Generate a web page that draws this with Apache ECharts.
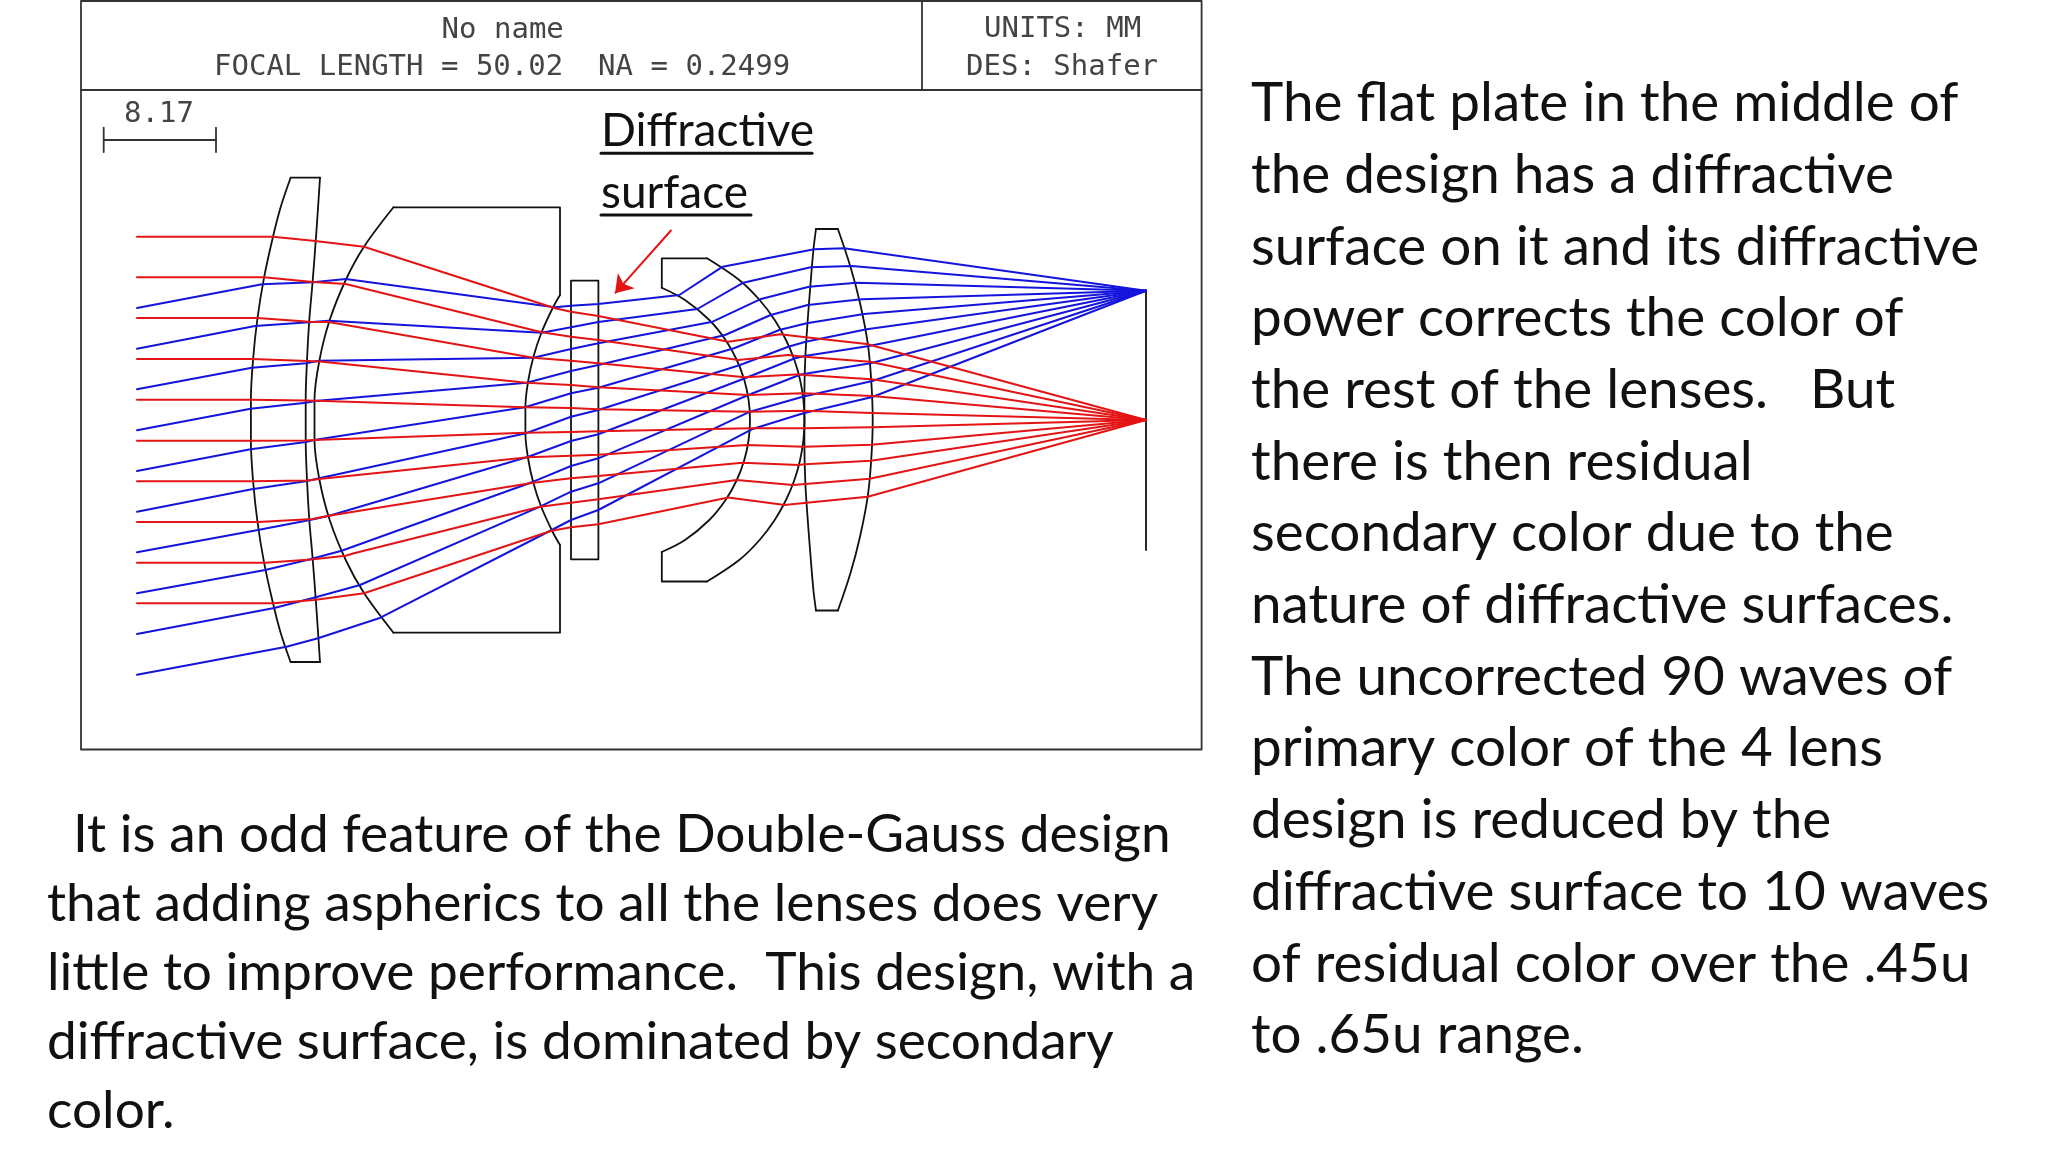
<!DOCTYPE html>
<html>

<head>
    <meta charset="utf-8">
    <title>Double-Gauss diffractive design</title>
    <style>
        html, body { margin: 0; background: #fff; }
        #main { width: 2048px; height: 1152px; }
    </style>
</head>

<body>
    <div id="main"></div>
    <script src="https://cdn.jsdelivr.net/npm/echarts@6/dist/echarts.min.js"></script>
    <script>
    // layout coordinates, x to the right and y downward
    var frameBox = [[81, 1], [1201.6, 1], [1201.6, 749.5], [81, 749.5], [81, 1]];
    var headerRule = [[81, 90], [1201.6, 90]];
    var headerDivider = [[922, 1], [922, 90]];
    var scaleBar = [[103.7, 140], [216, 140]];
    var scaleTickA = [[103.7, 127.7], [103.7, 152]];
    var scaleTickB = [[216, 127.7], [216, 152]];
    var imagePlane = [[1146, 290.7], [1146, 550]];
    var underlineA = [[601, 153.3], [812, 153.3]];
    var underlineB = [[601, 215], [751, 215]];
    var arrowFrom = [671.4, 230];
    var arrowTo = [615, 293.3];

    var lens1Front = [[290.6, 177.7], [280.7, 207], [273, 236.7], [264.1, 277.3], [257.5, 318], [253.1, 359], [250.9, 399.7], [250.9, 440.7], [253.1, 481.3], [257.5, 522], [264.1, 562.7], [273, 603.3], [280.7, 633], [290.6, 662]];
    var lens1Back = [[320, 177.7], [316.3, 233], [312.6, 282], [309.3, 320], [307, 360], [305.7, 400], [305.7, 440], [307, 480], [309.3, 520], [312.6, 558], [316.3, 607], [320, 662]];
    var lens1Top = [[290.6, 177.7], [320, 177.7]];
    var lens1Bottom = [[290.6, 662], [320, 662]];

    var lens2Front = [[393.5, 207.3], [364, 246.7], [346.2, 279], [329.7, 320], [319.5, 360], [314.5, 400], [314.5, 440], [319.5, 480], [329.7, 520], [346.2, 561], [364, 593], [393.5, 632.7]];
    var lens2Back = [[560, 295], [552.7, 308], [541.3, 333], [533.4, 357], [528, 382], [525.4, 407], [525.4, 433], [528, 458], [533.4, 483], [541.3, 507], [552.7, 532], [560, 545]];
    var lens2Edge = [[393.5, 207.3], [560, 207.3], [560, 295]];
    var lens2EdgeLow = [[560, 545], [560, 632.7], [393.5, 632.7]];

    var plateBox = [[571, 280.7], [598.4, 280.7], [598.4, 559.3], [571, 559.3], [571, 280.7]];

    var lens3Front = [[661.7, 287.7], [685, 300], [709.3, 320], [725.6, 340], [736.8, 360], [744.3, 380], [748.6, 400], [750, 420], [748.6, 440], [744.3, 460], [736.8, 480], [725.6, 500], [709.3, 520], [685, 540], [661.7, 552]];
    var lens3Back = [[707, 258.3], [739.2, 280], [759.6, 300], [774.7, 320], [786, 340], [794.4, 360], [800.1, 380], [803.4, 400], [804.5, 420], [803.4, 440], [800.1, 460], [794.4, 480], [786, 500], [774.7, 520], [759.6, 540], [739.2, 560], [707, 581.5]];
    var lens3Edge = [[707, 258.3], [661.8, 258.3], [661.8, 287.7]];
    var lens3EdgeLow = [[661.8, 552], [661.8, 581.5], [707, 581.5]];

    var lens4Front = [[816, 229], [813.4, 250], [810.3, 286.7], [807.6, 321.7], [805.3, 358], [804.4, 396.7], [804.4, 443], [805.3, 482], [807.6, 518], [810.3, 553], [813.4, 590], [816, 610.5]];
    var lens4Back = [[837.9, 229], [850.5, 267], [860, 303], [867.7, 343], [871.2, 380], [872.7, 420], [871.2, 460], [867.7, 496.7], [860, 536.7], [850.5, 573], [837.9, 610.5]];
    var lens4Top = [[816, 229], [837.9, 229]];
    var lens4Bottom = [[816, 610.5], [837.9, 610.5]];

    var redRay1 = [[137, 236.7], [273, 236.7], [313, 240.7], [364, 246.7], [555, 308.3], [571, 311.7], [598.3, 316], [728.3, 341.7], [780, 334.3], [805.7, 337.3], [866.7, 344], [1146, 420]];
    var redRay2 = [[137, 277.3], [264, 277.3], [313, 282], [345.7, 284], [541.7, 332.3], [571, 336.7], [598.3, 340], [738.3, 360], [788.3, 355], [804, 356.7], [870, 361.7], [1146, 420]];
    var redRay3 = [[137, 318], [257.6, 318], [309, 321.7], [328.6, 322], [533.3, 357.7], [571, 360.7], [598.3, 363.3], [745, 377.3], [800, 374.3], [804, 375], [871.7, 379.3], [1146, 420]];
    var redRay4 = [[137, 359], [252, 359], [307, 361], [320, 361.5], [526.7, 382.7], [571, 385], [598.3, 387.3], [748.3, 395], [802.7, 393.3], [872.3, 396], [1146, 420]];
    var redRay5 = [[137, 399.7], [250.6, 399.7], [305.7, 400.5], [315.5, 400.7], [525, 407.3], [571, 408], [598.3, 409.3], [750, 411.7], [803.3, 410.7], [872.3, 413], [1146, 420]];
    var redRay6 = [[137, 440.7], [250.6, 440.7], [305.7, 440.5], [313.9, 440], [525.7, 432.7], [571, 432], [598.3, 431.3], [750.7, 428.3], [803.3, 428.3], [872.3, 427.3], [1146, 420]];
    var redRay7 = [[137, 481.3], [251.8, 481.3], [307.3, 480.5], [319.2, 479], [528.3, 457.3], [571, 455.7], [598.3, 454.7], [747, 445], [804.6, 446.7], [871.5, 444.7], [1146, 420]];
    var redRay8 = [[137, 522], [258, 522], [313, 519], [328.6, 515.7], [533.3, 482.7], [571, 478.3], [598.3, 476], [742.6, 462.7], [798.8, 465], [804.6, 464.3], [871, 460.7], [1146, 420]];
    var redRay9 = [[137, 562.7], [265.3, 562.7], [311, 559.5], [345.7, 555.7], [354, 553.3], [540, 506.7], [571, 502.7], [598.3, 499.3], [736.7, 480], [793, 485], [805.3, 484], [869.6, 478.7], [1146, 420]];
    var redRay10 = [[137, 603.3], [273.5, 603.3], [314, 600], [364, 593.3], [551.7, 530.7], [571, 527.3], [598.3, 524.3], [728.3, 497.5], [784.7, 505], [806.5, 502.7], [867.7, 496.7], [1146, 420]];

    var blueRay1 = [[137, 308], [262, 284.3], [313, 282.3], [345.7, 279], [555, 307.3], [571, 305.7], [598.3, 304], [679.3, 295], [722.7, 266.7], [814.3, 249.3], [844, 248.3], [1146, 290.7]];
    var blueRay2 = [[137, 348.7], [255, 326], [309, 322.3], [328.6, 320.7], [541.7, 332.7], [571, 327.3], [598.3, 322], [697.3, 309], [743.3, 282.7], [810.7, 267.3], [851.7, 266], [1146, 290.7]];
    var blueRay3 = [[137, 389.3], [251.8, 367.7], [306, 363.3], [319.2, 360.7], [533.3, 357.7], [571, 349], [598.3, 343.3], [712.7, 321.7], [760, 299.3], [809, 286.7], [856.7, 282.7], [1146, 290.7]];
    var blueRay4 = [[137, 430.3], [250.6, 408.7], [306, 402.7], [315, 401], [526.7, 382.7], [571, 371], [598.3, 365], [725, 335], [770.7, 315], [807.7, 305], [861.7, 299.3], [1146, 290.7]];
    var blueRay5 = [[137, 471], [250.6, 449.3], [306, 442], [314, 440], [525, 407.3], [571, 393.3], [598.3, 387.7], [734, 348.3], [779.3, 330], [806.7, 323.3], [864, 314], [1146, 290.7]];
    var blueRay6 = [[137, 511.7], [251.8, 489.3], [307.3, 481], [319.2, 478.3], [526, 433.3], [571, 416.7], [598.3, 410], [740, 365], [788.3, 346.7], [805.7, 341.7], [866.7, 329.3], [1146, 290.7]];
    var blueRay7 = [[137, 552.3], [258, 530], [309.8, 520], [329.4, 515.7], [528.3, 456.7], [571, 441], [598.3, 434.3], [745, 378.3], [795, 358.3], [804.7, 356], [869, 346], [1146, 290.7]];
    var blueRay8 = [[137, 593.3], [265.3, 570], [311, 559], [341.6, 550.7], [533.3, 481.7], [571, 466], [598.3, 458.3], [748.3, 395], [799.3, 375], [803.7, 374], [870.7, 363.3], [1146, 290.7]];
    var blueRay9 = [[137, 634], [274.3, 608], [313.9, 597.7], [360, 585], [540, 506.7], [571, 491.7], [598.3, 483.3], [750, 411.7], [802.7, 396.7], [872.3, 381], [1146, 290.7]];
    var blueRay10 = [[137, 674.7], [286.5, 646.7], [318, 638.3], [380.4, 617.7], [551.7, 530], [571, 520], [598.3, 510], [751.7, 429.3], [803.3, 413.3], [872.3, 397], [1146, 290.7]];

    var leftLines = [
        'It is an odd feature of the Double-Gauss design',
        'that adding aspherics to all the lenses does very',
        'little to improve performance.  This design, with a',
        'diffractive surface, is dominated by secondary',
        'color.'
    ];
    var rightLines = [
        'The flat plate in the middle of',
        'the design has a diffractive',
        'surface on it and its diffractive',
        'power corrects the color of',
        'the rest of the lenses.   But',
        'there is then residual',
        'secondary color due to the',
        'nature of diffractive surfaces.',
        'The uncorrected 90 waves of',
        'primary color of the 4 lens',
        'design is reduced by the',
        'diffractive surface to 10 waves',
        'of residual color over the .45u',
        'to .65u range.'
    ];

    var chart = echarts.init(document.getElementById('main'));

    function path(points, color, width, smooth) {
        return {
            type: 'line',
            data: points,
            smooth: smooth ? 0.35 : false,
            showSymbol: false,
            symbol: 'none',
            silent: true,
            animation: false,
            lineStyle: { color: color, width: width, cap: 'round', join: 'round' }
        };
    }

    function cadText(text, x, y) {
        return {
            type: 'text',
            x: x,
            y: y,
            silent: true,
            style: {
                text: text,
                fill: '#444',
                fontFamily: '"DejaVu Sans Mono"',
                fontSize: 29,
                textVerticalAlign: 'middle'
            }
        };
    }

    function bodyText(text, x, y, size) {
        return {
            type: 'text',
            x: x,
            y: y,
            silent: true,
            style: {
                text: text,
                fill: '#111',
                fontFamily: 'Lato',
                fontSize: size,
                textVerticalAlign: 'middle'
            }
        };
    }

    var series = [];
    [frameBox, headerRule, headerDivider, scaleBar, scaleTickA, scaleTickB].forEach(function(p) {
        series.push(path(p, '#333', 1.8));
    });
    [lens1Top, lens1Bottom, lens2Edge, lens2EdgeLow, plateBox, lens3Edge, lens3EdgeLow, lens4Top, lens4Bottom, imagePlane].forEach(function(p) {
        series.push(path(p, '#111', 1.8));
    });
    [lens1Front, lens1Back, lens2Front, lens2Back, lens3Front, lens3Back, lens4Front, lens4Back].forEach(function(p) {
        series.push(path(p, '#111', 1.8, true));
    });
    [blueRay1, blueRay2, blueRay3, blueRay4, blueRay5, blueRay6, blueRay7, blueRay8, blueRay9, blueRay10].forEach(function(p) {
        series.push(path(p, '#1414dc', 2));
    });
    [redRay1, redRay2, redRay3, redRay4, redRay5, redRay6, redRay7, redRay8, redRay9, redRay10].forEach(function(p) {
        series.push(path(p, '#e41414', 2));
    });
    series.push(path(underlineA, '#111', 3));
    series.push(path(underlineB, '#111', 3));

    // the red pointer to the diffractive plate
    var pointer = path([], '#e41414', 2);
    pointer.markLine = {
        silent: true,
        animation: false,
        symbol: ['none', 'arrow'],
        symbolSize: 17,
        label: { show: false },
        lineStyle: { color: '#e41414', width: 2, type: 'solid' },
        data: [[{ coord: arrowFrom }, { coord: arrowTo }]]
    };
    series.push(pointer);

    var texts = [
        cadText('No name', 441.6, 30.5),
        cadText('FOCAL LENGTH = 50.02  NA = 0.2499', 214, 67.5),
        cadText('UNITS: MM', 984, 29.5),
        cadText('DES: Shafer', 966, 67.5),
        cadText('8.17', 124, 114),
        bodyText('Diffractive', 601, 131, 46),
        bodyText('surface', 601, 193, 46)
    ];
    leftLines.forEach(function(line, i) {
        texts.push(bodyText(line, i === 0 ? 73 : 47, 834.5 + i * 69.2, 53.2));
    });
    rightLines.forEach(function(line, i) {
        texts.push(bodyText(line, 1251, 103.5 + i * 71.7, 54.8));
    });

    chart.setOption({
        animation: false,
        backgroundColor: '#fff',
        tooltip: { show: false },
        grid: { left: 0, right: 0, top: 0, bottom: 0 },
        xAxis: { type: 'value', min: 0, max: 2048, show: false },
        yAxis: { type: 'value', min: 0, max: 1152, inverse: true, show: false },
        series: series,
        graphic: texts
    });
    </script>
</body>

</html>
